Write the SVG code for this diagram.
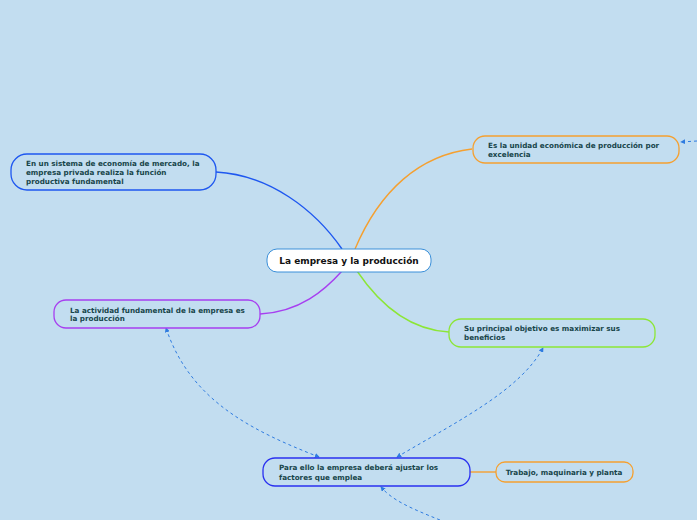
<svg xmlns="http://www.w3.org/2000/svg" width="697" height="520" viewBox="0 0 697 520">
<defs>
<style>
text{font-family:"DejaVu Sans","Liberation Sans",sans-serif;font-weight:bold;font-size:7.2px;fill:#17454a}
.node{fill:#c2ddf0;stroke-width:1.3}
.dash{fill:none;stroke:#2e7be0;stroke-width:1;stroke-dasharray:3,3}
.br{fill:none;stroke-width:1.4}
</style>
<marker id="ah" viewBox="0 0 6 6" refX="5" refY="3" markerWidth="5" markerHeight="5" orient="auto-start-reverse"><path d="M0,0L6,3L0,6z" fill="#2e7be0"/></marker>
</defs>
<rect width="697" height="520" fill="#c2ddf0"/>
<g id="connectors">
<path class="br" stroke="#1e57f0" d="M216,172 C270,175 315,210 342,249"/>
<path class="br" stroke="#f5a030" d="M472,149 C420,155 380,190 355,249"/>
<path class="br" stroke="#a73ff0" d="M260,314 C300,312 325,290 342,271"/>
<path class="br" stroke="#8ce636" d="M449,332 C410,330 380,305 357,271"/>
<path class="br" stroke="#f5a030" d="M470,472 L496,472"/>
<path class="dash" marker-end="url(#ah)" d="M697,141 L681,142"/>
<path class="dash" marker-start="url(#ah)" marker-end="url(#ah)" d="M319,457 C250,430 190,400 166,328"/>
<path class="dash" marker-start="url(#ah)" marker-end="url(#ah)" d="M397,457 C460,420 520,390 543,348"/>
<path class="dash" marker-end="url(#ah)" d="M440,520 C410,508 392,500 381,487"/>
</g>
<g id="center"><rect x="267" y="249" width="164" height="23" rx="10" fill="#fff" stroke="#3a8fd9" stroke-width="1"/><text x="349" y="264" text-anchor="middle" style="font-size:9px;fill:#111">La empresa y la producción</text></g>
<g id="n1"><rect class="node" x="11" y="154" width="205" height="36" rx="16" stroke="#1e57f0"/><text x="26" y="166">En un sistema de economía de mercado, la</text><text x="26" y="175">empresa privada realiza la función</text><text x="26" y="184">productiva fundamental</text></g>
<g id="n2"><rect class="node" x="473" y="136" width="206" height="27" rx="12" stroke="#f5a030"/><text x="488" y="148">Es la unidad económica de producción por</text><text x="488" y="157">excelencia</text></g>
<g id="n3"><rect class="node" x="54" y="300" width="206" height="28" rx="12" stroke="#a73ff0"/><text x="70" y="313">La actividad fundamental de la empresa es</text><text x="70" y="321">la producción</text></g>
<g id="n4"><rect class="node" x="449" y="319" width="206" height="28" rx="12" stroke="#8ce636"/><text x="464" y="331">Su principal objetivo es maximizar sus</text><text x="464" y="340">beneficios</text></g>
<g id="n5"><rect class="node" x="263" y="458" width="207" height="28" rx="12" stroke="#2a30f0" stroke-width="1.6"/><text x="279" y="470">Para ello la empresa deberá ajustar los</text><text x="279" y="480">factores que emplea</text></g>
<g id="n6"><rect class="node" x="496" y="462" width="137" height="20" rx="9" stroke="#f5a030"/><text x="564" y="475" text-anchor="middle">Trabajo, maquinaria y planta</text></g>
</svg>
